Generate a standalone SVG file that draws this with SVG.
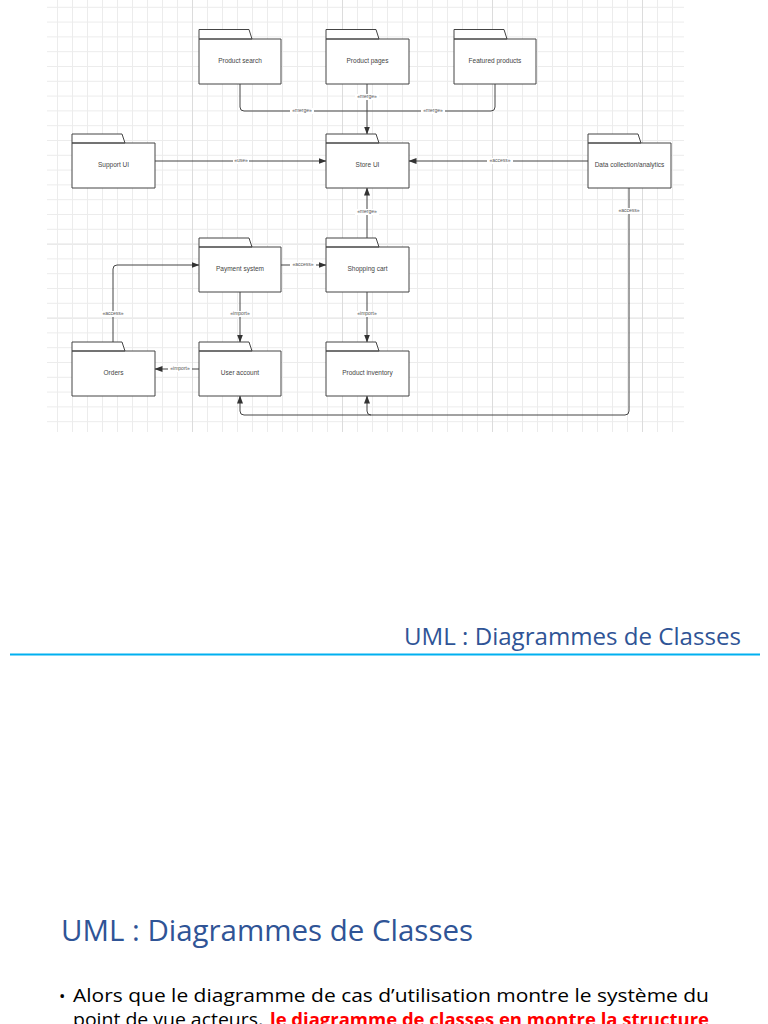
<svg xmlns="http://www.w3.org/2000/svg" width="768" height="1024" viewBox="0 0 768 1024">
<defs>
<style>
.grid line{stroke:#ececec;stroke-width:1}
.grid line.maj{stroke:#dcdcdc}
.pkg path{fill:#fff;stroke:#444;stroke-width:1}
.pkg text{font-family:"Liberation Sans",Arial,sans-serif;font-size:6.5px;fill:#444;text-anchor:middle;dominant-baseline:middle}
.conn path{fill:none;stroke:#444;stroke-width:1}
.lbl rect{fill:#fff}
.lbl text{font-family:"Liberation Sans",Arial,sans-serif;font-size:5px;fill:#555;text-anchor:middle;dominant-baseline:middle}
</style>
<marker id="arr" markerWidth="8" markerHeight="6" refX="7.5" refY="3" orient="auto" markerUnits="userSpaceOnUse">
<path d="M0,0 L8,3 L0,6 Z" fill="#333"/>
</marker>
</defs>
<rect width="768" height="1024" fill="#fff"/>
<g class="grid">
<line x1="47" y1="7.3" x2="684" y2="7.3"/><line x1="47" y1="22.1" x2="684" y2="22.1"/><line x1="47" y1="36.9" x2="684" y2="36.9"/><line x1="47" y1="51.7" x2="684" y2="51.7"/><line x1="47" y1="66.5" x2="684" y2="66.5"/><line x1="47" y1="81.3" x2="684" y2="81.3"/><line x1="47" y1="96.1" x2="684" y2="96.1"/><line x1="47" y1="110.9" x2="684" y2="110.9"/><line x1="47" y1="125.7" x2="684" y2="125.7"/><line x1="47" y1="140.5" x2="684" y2="140.5"/><line x1="47" y1="155.3" x2="684" y2="155.3"/><line x1="47" y1="170.1" x2="684" y2="170.1"/><line x1="47" y1="184.9" x2="684" y2="184.9"/><line x1="47" y1="199.7" x2="684" y2="199.7"/><line x1="47" y1="214.5" x2="684" y2="214.5"/><line x1="47" y1="229.3" x2="684" y2="229.3"/><line class="maj" x1="47" y1="244.1" x2="684" y2="244.1"/><line x1="47" y1="258.9" x2="684" y2="258.9"/><line x1="47" y1="273.7" x2="684" y2="273.7"/><line x1="47" y1="288.5" x2="684" y2="288.5"/><line x1="47" y1="303.3" x2="684" y2="303.3"/><line class="maj" x1="47" y1="318.1" x2="684" y2="318.1"/><line x1="47" y1="332.9" x2="684" y2="332.9"/><line x1="47" y1="347.7" x2="684" y2="347.7"/><line x1="47" y1="362.5" x2="684" y2="362.5"/><line x1="47" y1="377.3" x2="684" y2="377.3"/><line x1="47" y1="392.1" x2="684" y2="392.1"/><line x1="47" y1="406.9" x2="684" y2="406.9"/><line x1="47" y1="421.7" x2="684" y2="421.7"/>
<line x1="57.5" y1="0" x2="57.5" y2="432"/><line x1="72.5" y1="0" x2="72.5" y2="432"/><line x1="87.5" y1="0" x2="87.5" y2="432"/><line x1="102.5" y1="0" x2="102.5" y2="432"/><line x1="117.5" y1="0" x2="117.5" y2="432"/><line x1="132.5" y1="0" x2="132.5" y2="432"/><line x1="147.5" y1="0" x2="147.5" y2="432"/><line x1="162.5" y1="0" x2="162.5" y2="432"/><line x1="177.5" y1="0" x2="177.5" y2="432"/><line class="maj" x1="192.5" y1="0" x2="192.5" y2="432"/><line x1="207.5" y1="0" x2="207.5" y2="432"/><line x1="222.5" y1="0" x2="222.5" y2="432"/><line x1="237.5" y1="0" x2="237.5" y2="432"/><line x1="252.5" y1="0" x2="252.5" y2="432"/><line x1="267.5" y1="0" x2="267.5" y2="432"/><line x1="282.5" y1="0" x2="282.5" y2="432"/><line x1="297.5" y1="0" x2="297.5" y2="432"/><line x1="312.5" y1="0" x2="312.5" y2="432"/><line x1="327.5" y1="0" x2="327.5" y2="432"/><line class="maj" x1="342.5" y1="0" x2="342.5" y2="432"/><line x1="357.5" y1="0" x2="357.5" y2="432"/><line x1="372.5" y1="0" x2="372.5" y2="432"/><line x1="387.5" y1="0" x2="387.5" y2="432"/><line x1="402.5" y1="0" x2="402.5" y2="432"/><line x1="417.5" y1="0" x2="417.5" y2="432"/><line x1="432.5" y1="0" x2="432.5" y2="432"/><line x1="447.5" y1="0" x2="447.5" y2="432"/><line x1="462.5" y1="0" x2="462.5" y2="432"/><line x1="477.5" y1="0" x2="477.5" y2="432"/><line class="maj" x1="492.5" y1="0" x2="492.5" y2="432"/><line x1="507.5" y1="0" x2="507.5" y2="432"/><line x1="522.5" y1="0" x2="522.5" y2="432"/><line x1="537.5" y1="0" x2="537.5" y2="432"/><line x1="552.5" y1="0" x2="552.5" y2="432"/><line x1="567.5" y1="0" x2="567.5" y2="432"/><line x1="582.5" y1="0" x2="582.5" y2="432"/><line x1="597.5" y1="0" x2="597.5" y2="432"/><line x1="612.5" y1="0" x2="612.5" y2="432"/><line x1="627.5" y1="0" x2="627.5" y2="432"/><line class="maj" x1="642.5" y1="0" x2="642.5" y2="432"/><line x1="657.5" y1="0" x2="657.5" y2="432"/><line x1="672.5" y1="0" x2="672.5" y2="432"/>
</g>
<g class="conn" id="connectors">
<path d="M240 84 V107 Q240 111 244 111 H367"/>
<path d="M495 84 V107 Q495 111 491 111 H367"/>
<path d="M367 84 V134" marker-end="url(#arr)"/>
<path d="M155 161 H326" marker-end="url(#arr)"/>
<path d="M588 161 H409" marker-end="url(#arr)"/>
<path d="M367 238 V188" marker-end="url(#arr)"/>
<path d="M629 188 V411 Q629 415 625 415 H371 Q367 415 367 411 V396" marker-end="url(#arr)"/>
<path d="M371 415 H244 Q240 415 240 411 V396" marker-end="url(#arr)"/>
<path d="M281 265 H326" marker-end="url(#arr)"/>
<path d="M113 342 V269 Q113 265 117 265 H199" marker-end="url(#arr)"/>
<path d="M240 292 V342" marker-end="url(#arr)"/>
<path d="M367 292 V342" marker-end="url(#arr)"/>
<path d="M199 369 H155" marker-end="url(#arr)"/>
<g class="lbl">
<rect x="290" y="108" width="24" height="6"/><text x="302" y="111">«merge»</text>
<rect x="421" y="108" width="24" height="6"/><text x="433" y="111">«merge»</text>
<rect x="355" y="94" width="24" height="6"/><text x="367" y="97">«merge»</text>
<rect x="355" y="209" width="24" height="6"/><text x="367" y="212">«merge»</text>
<rect x="233" y="158" width="16" height="6"/><text x="241" y="161">«use»</text>
<rect x="487" y="158" width="26" height="6"/><text x="500" y="161">«access»</text>
<rect x="616" y="208" width="26" height="6"/><text x="629" y="211">«access»</text>
<rect x="290" y="262" width="26" height="6"/><text x="303" y="265">«access»</text>
<rect x="100" y="311" width="26" height="6"/><text x="113" y="314">«access»</text>
<rect x="228" y="311" width="24" height="6"/><text x="240" y="314">«import»</text>
<rect x="355" y="311" width="24" height="6"/><text x="367" y="314">«import»</text>
<rect x="168" y="366" width="24" height="6"/><text x="180" y="369">«import»</text>
</g>
</g>
<g class="pkg" id="product-search"><path d="M199 39 V29.5 H249 L252 39 Z M199 39 H281 V84 H199 Z"/><text x="240" y="61.5">Product search</text></g>
<g class="pkg" id="product-pages"><path d="M326 39 V29.5 H376 L379 39 Z M326 39 H409 V84 H326 Z"/><text x="367.5" y="61.5">Product pages</text></g>
<g class="pkg" id="featured-products"><path d="M454 39 V29.5 H504 L507 39 Z M454 39 H536 V84 H454 Z"/><text x="495" y="61.5">Featured products</text></g>
<g class="pkg" id="support-ui"><path d="M72 143 V134 H122 L125 143 Z M72 143 H155 V188 H72 Z"/><text x="113.5" y="165.5">Support UI</text></g>
<g class="pkg" id="store-ui"><path d="M326 143 V134 H376 L379 143 Z M326 143 H409 V188 H326 Z"/><text x="367.5" y="165.5">Store UI</text></g>
<g class="pkg" id="data-collection"><path d="M588 143 V134 H638 L641 143 Z M588 143 H671 V188 H588 Z"/><text x="629.5" y="165.5">Data collection/analytics</text></g>
<g class="pkg" id="payment-system"><path d="M199 247 V238 H249 L252 247 Z M199 247 H281 V292 H199 Z"/><text x="240" y="269.5">Payment system</text></g>
<g class="pkg" id="shopping-cart"><path d="M326 247 V238 H376 L379 247 Z M326 247 H409 V292 H326 Z"/><text x="367.5" y="269.5">Shopping cart</text></g>
<g class="pkg" id="orders"><path d="M72 351 V342 H122 L125 351 Z M72 351 H155 V396 H72 Z"/><text x="113.5" y="373.5">Orders</text></g>
<g class="pkg" id="user-account"><path d="M199 351 V342 H249 L252 351 Z M199 351 H281 V396 H199 Z"/><text x="240" y="373.5">User account</text></g>
<g class="pkg" id="product-inventory"><path d="M326 351 V342 H376 L379 351 Z M326 351 H409 V396 H326 Z"/><text x="367.5" y="373.5">Product inventory</text></g>
<g id="slide">
<text x="741" y="645" text-anchor="end" font-family="'Open Sans','Noto Sans',sans-serif" font-size="23" fill="#2f5496" textLength="337" lengthAdjust="spacingAndGlyphs">UML : Diagrammes de Classes</text>
<line x1="10" y1="654.5" x2="760" y2="654.5" stroke="#00b0f0" stroke-width="2"/>
<text x="61" y="941" font-family="'Open Sans','Noto Sans',sans-serif" font-size="30" fill="#2f5496" textLength="412" lengthAdjust="spacingAndGlyphs">UML : Diagrammes de Classes</text>
<text x="59" y="1002" font-family="'Open Sans','Noto Sans',sans-serif" font-size="17" fill="#000">•</text>
<text x="73" y="1002" font-family="'Open Sans','Noto Sans',sans-serif" font-size="18" fill="#000" textLength="636" lengthAdjust="spacingAndGlyphs">Alors que le diagramme de cas d’utilisation montre le système du</text>
<text x="73" y="1026" font-family="'Open Sans','Noto Sans',sans-serif" font-size="18" fill="#000"><tspan textLength="190" lengthAdjust="spacingAndGlyphs">point de vue acteurs,</tspan><tspan x="270" fill="#ff0000" font-weight="bold" textLength="439" lengthAdjust="spacingAndGlyphs">le diagramme de classes en montre la structure</tspan></text>
</g>
</svg>
